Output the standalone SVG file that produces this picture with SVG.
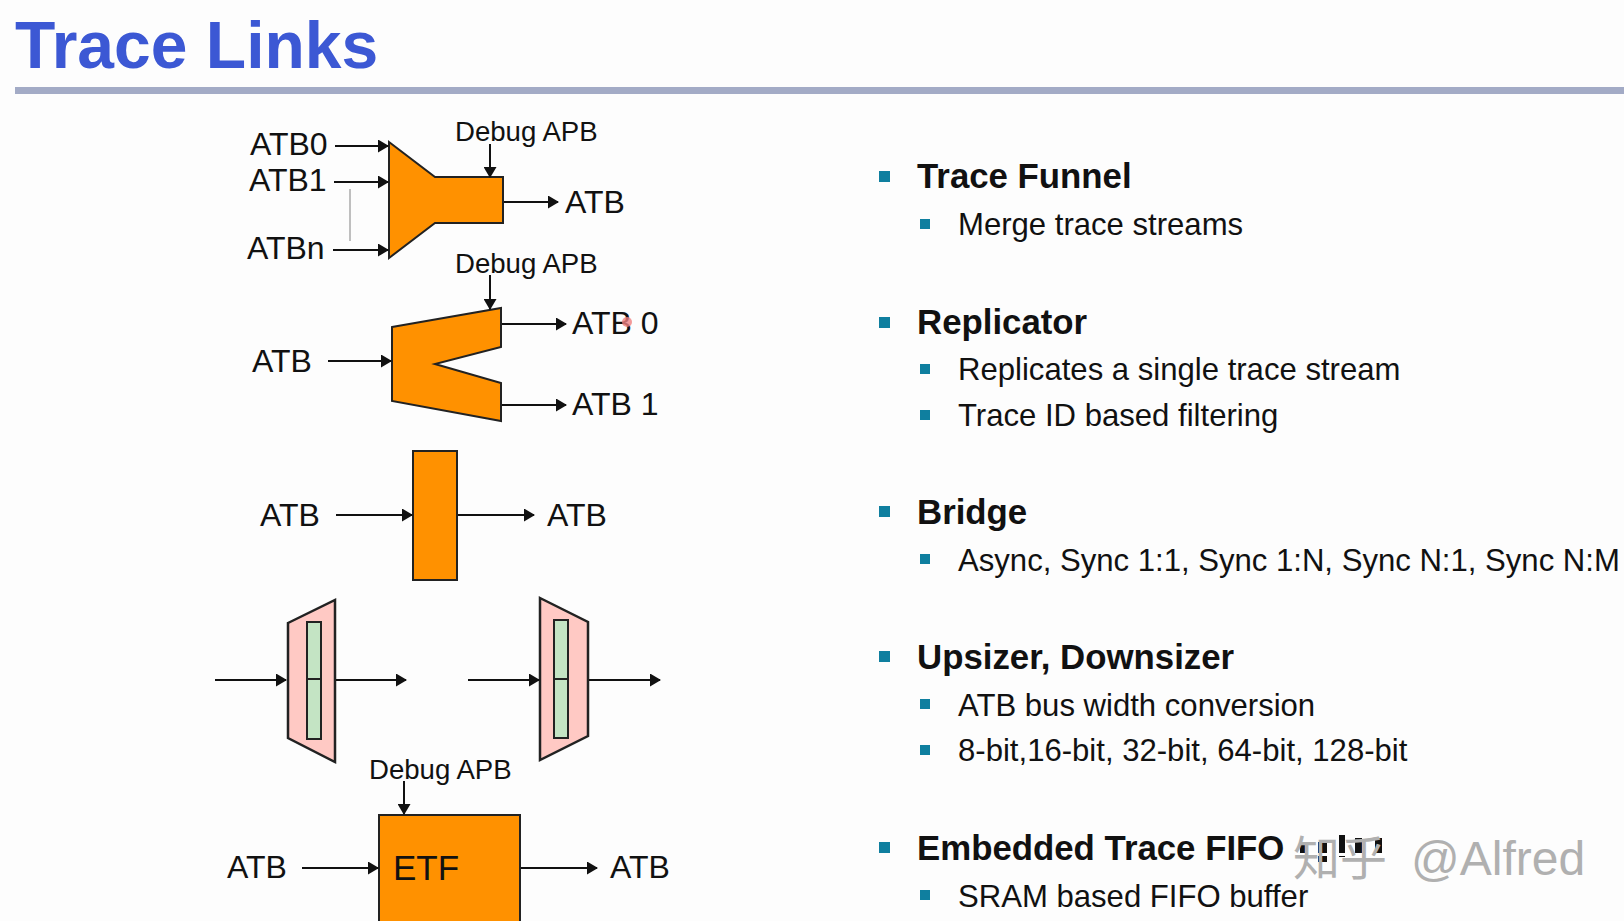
<svg xmlns="http://www.w3.org/2000/svg" width="1624" height="921" viewBox="0 0 1624 921">
<style>
text{font-family:"Liberation Sans",Arial,sans-serif;fill:#111}
.l{font-size:32px}
.d{font-size:27.6px}
.h{font-size:34.8px;font-weight:bold}
.b{font-size:31.1px}
.o{fill:#ff9100;stroke:#222;stroke-width:2}
.p{fill:#ffc9c4;stroke:#222;stroke-width:2.5}
.g{fill:#c4e4c4;stroke:#222;stroke-width:2}
.c line{stroke:#111;stroke-width:2;marker-end:url(#a)}
.s{fill:#0f7f9f}
.w{font-size:48px;fill:#b0b0b0}
</style>
<defs><marker id="a" markerUnits="userSpaceOnUse" markerWidth="11" markerHeight="13" refX="10" refY="6.5" orient="auto"><path d="M0 0L11 6.5L0 13Z" fill="#111"/></marker></defs>
<rect width="1624" height="921" fill="#fdfdfd"/>
<g id="title"><text x="15" y="68" style="font-size:66px;font-weight:bold;fill:#3c58d4">Trace Links</text><rect x="15" y="87" width="1609" height="7" fill="#a3abc6"/></g>
<g id="funnel"><polygon class="o" points="389,142 435,177 503,177 503,223 435,223 389,258"/><text class="l" x="250" y="155">ATB0</text><text class="l" x="249" y="191">ATB1</text><text class="l" x="247" y="259">ATBn</text><text class="d" x="455" y="141">Debug APB</text><text class="l" x="565" y="213">ATB</text><line x1="350" y1="189" x2="350" y2="241" stroke="#aaa" stroke-width="1.5"/></g>
<g id="replicator"><polygon class="o" points="392,327 501,308 501,347 435,364 501,383 501,421 392,401"/><text class="d" x="455" y="273">Debug APB</text><text class="l" x="252" y="372">ATB</text><text class="l" x="572" y="334">ATB 0</text><text class="l" x="572" y="415">ATB 1</text><circle cx="627" cy="322" r="5" fill="#f08080" opacity=".8"/></g>
<g id="bridge"><rect class="o" x="413" y="451" width="44" height="129"/><text class="l" x="260" y="526">ATB</text><text class="l" x="547" y="526">ATB</text></g>
<g id="upsizer"><polygon class="p" points="288,623 335,600 335,762 288,738"/><rect class="g" x="307" y="622" width="14" height="117"/><line x1="307" y1="679" x2="321" y2="679" stroke="#222" stroke-width="2"/></g>
<g id="downsizer"><polygon class="p" points="540,598 588,622 588,736 540,760"/><rect class="g" x="554" y="620" width="14" height="118"/><line x1="554" y1="679" x2="568" y2="679" stroke="#222" stroke-width="2"/></g>
<g id="etf"><rect class="o" x="379" y="815" width="141" height="120"/><text x="393" y="880" style="font-size:35px">ETF</text><text class="d" x="369" y="779">Debug APB</text><text class="l" x="227" y="878">ATB</text><text class="l" x="610" y="878">ATB</text></g>
<g id="connectors" class="c">
<line x1="335" y1="146" x2="388" y2="146"/><line x1="334" y1="182" x2="388" y2="182"/><line x1="333" y1="250" x2="388" y2="250"/><line x1="490" y1="144" x2="490" y2="177"/><line x1="504" y1="202" x2="558" y2="202"/>
<line x1="490" y1="275" x2="490" y2="309"/><line x1="328" y1="361" x2="391" y2="361"/><line x1="502" y1="324" x2="566" y2="324"/><line x1="502" y1="405" x2="566" y2="405"/>
<line x1="336" y1="515" x2="412" y2="515"/><line x1="458" y1="515" x2="534" y2="515"/>
<line x1="215" y1="680" x2="286" y2="680"/><line x1="336" y1="680" x2="406" y2="680"/><line x1="468" y1="680" x2="539" y2="680"/><line x1="589" y1="680" x2="660" y2="680"/>
<line x1="404" y1="781" x2="404" y2="814"/><line x1="302" y1="868" x2="378" y2="868"/><line x1="521" y1="868" x2="597" y2="868"/>
</g>
<g id="bullets">
<rect class="s" x="879" y="171" width="11" height="11"/><text class="h" x="917" y="188">Trace Funnel</text>
<rect class="s" x="920" y="219" width="10" height="10"/><text class="b" x="958" y="235">Merge trace streams</text>
<rect class="s" x="879" y="317" width="11" height="11"/><text class="h" x="917" y="334">Replicator</text>
<rect class="s" x="920" y="364" width="10" height="10"/><text class="b" x="958" y="380">Replicates a single trace stream</text>
<rect class="s" x="920" y="410" width="10" height="10"/><text class="b" x="958" y="426">Trace ID based filtering</text>
<rect class="s" x="879" y="506" width="11" height="11"/><text class="h" x="917" y="524">Bridge</text>
<rect class="s" x="920" y="554" width="10" height="10"/><text class="b" x="958" y="571">Async, Sync 1:1, Sync 1:N, Sync N:1, Sync N:M</text>
<rect class="s" x="879" y="651" width="11" height="11"/><text class="h" x="917" y="669">Upsizer, Downsizer</text>
<rect class="s" x="920" y="699" width="10" height="10"/><text class="b" x="958" y="716">ATB bus width conversion</text>
<rect class="s" x="920" y="745" width="10" height="10"/><text class="b" x="958" y="761">8-bit,16-bit, 32-bit, 64-bit, 128-bit</text>
<rect class="s" x="879" y="842" width="11" height="11"/><text class="h" x="917" y="860">Embedded Trace FIFO</text>
<rect class="s" x="920" y="890" width="10" height="10"/><text class="b" x="958" y="907">SRAM based FIFO buffer</text>
</g>
<g id="watermark">
<path d="M1300 843h5v14h-5zM1318 842h9v20h-9zM1339 835h6v22h-6zM1355 838h7v18h-7zM1375 838h7v18h-7z" fill="#111"/>
<path d="M1296 853h90v3h-90z" fill="#fff"/>
<text class="w" x="1293" y="875" style="font-family:'Noto Sans CJK SC','Liberation Sans',sans-serif;font-size:47px">知乎</text><text class="w" x="1411" y="875">@Alfred</text></g>
</svg>
